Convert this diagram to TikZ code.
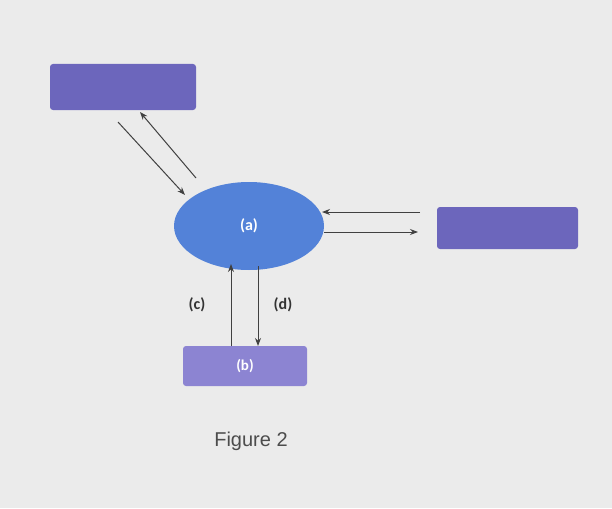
\documentclass[tikz,border=0pt]{standalone}
\usepackage{fontspec}
\setmainfont{Carlito}
\newfontfamily\arial{Liberation Sans}
\usetikzlibrary{shapes.geometric,arrows.meta}
\definecolor{bg}{HTML}{EBEBEB}
\definecolor{boxc}{HTML}{6C66BC}
\definecolor{boxb}{HTML}{8C84D2}
\definecolor{ellc}{HTML}{5382D8}
\begin{document}
\begin{tikzpicture}[x=1pt,y=-1pt,
  box/.style={draw=none,rounded corners=3pt,minimum width=#1,inner sep=0pt},
  arr/.style={-{Stealth[length=8pt,width=6pt]},line width=1pt,draw=black!75},
  lbl/.style={font=\bfseries\fontsize{16}{18}\selectfont,text=black!80}]
\fill[bg] (0,0) rectangle (612,508);
\node[box=146pt,minimum height=46pt,fill=boxc] (tl) at (123,87) {};
\node[box=141pt,minimum height=42pt,fill=boxc] (r) at (507.5,228) {};
\node[box=124pt,minimum height=40pt,fill=boxb,text=white,font=\bfseries\fontsize{15}{17}\selectfont] (b) at (245,366) {\raisebox{-9pt}{(b)}};
\node[ellipse,fill=ellc,minimum width=150pt,minimum height=88pt,inner sep=0pt,text=white,font=\bfseries\fontsize{16}{18}\selectfont] (a) at (249,226) {(a)};
\coordinate (p1) at (118,122); \coordinate (p2) at (185,195);
\coordinate (q1) at (196,178); \coordinate (q2) at (140,112);
\draw[arr] (p1) -- (p2);
\draw[arr] (q1) -- (q2);
\coordinate (r1) at (420,212); \coordinate (r2) at (322,212);
\coordinate (s1) at (324,232); \coordinate (s2) at (418,232);
\draw[arr] (r1) -- (r2);
\draw[arr] (s1) -- (s2);
\coordinate (c1) at (231,346); \coordinate (c2) at (231,264);
\coordinate (d1) at (258,266); \coordinate (d2) at (258,346);
\draw[arr] (c1) -- (c2);
\draw[arr] (d1) -- (d2);
\node[lbl] (lc) at (197,305) {(c)};
\node[lbl] (ld) at (283,305) {(d)};
\node[font=\arial\fontsize{20}{22}\selectfont,text=black!70] (fig) at (251,441) {Figure 2};
\end{tikzpicture}
\end{document}
